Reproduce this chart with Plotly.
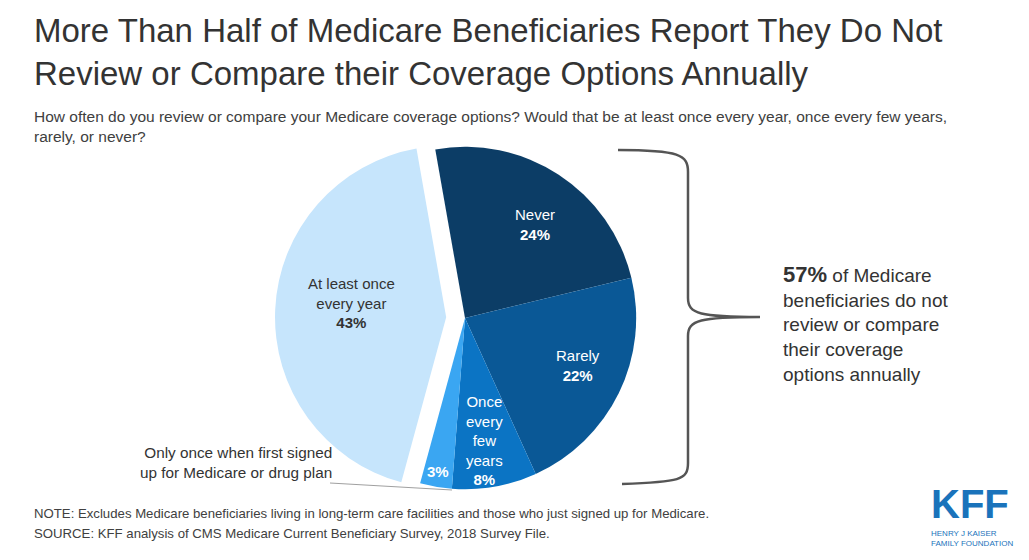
import plotly.graph_objects as go

W, H = 1029, 560

# ---- data ----
labels = ["Never", "Rarely", "Once every few years",
          "Only once when first signed up for Medicare or drug plan",
          "At least once every year"]
values = [24, 22, 8, 3, 43]
colors = ["#0c3d66", "#0a5896", "#0b74c4", "#3aa6f2", "#c6e5fc"]
pulls = [0, 0, 0, 0, 0.11]
label_text = ["Never", "Rarely", "Once<br>every<br>few<br>years", "", "At least once<br>every year"]
label_color = ["white", "white", "white", "white", "#333333"]
label_pos = [(535, 224), (578, 365), (484, 440), (438, 471), (351, 303)]

title_lines = ["More Than Half of Medicare Beneficiaries Report They Do Not",
               "Review or Compare their Coverage Options Annually"]
subtitle = ("How often do you review or compare your Medicare coverage options? Would that be at least once every year, once every few years,<br>"
            "rarely, or never?")
note = "NOTE: Excludes Medicare beneficiaries living in long-term care facilities and those who just signed up for Medicare."
source = "SOURCE: KFF analysis of CMS Medicare Current Beneficiary Survey, 2018 Survey File."
share_not_annual = values[0] + values[1] + values[2] + values[3]


def px(x):
    return x / W


def py(y):
    return 1 - y / H


FONT = "Liberation Sans, Arial, sans-serif"
cx, cy, box = 465, 318, 380

fig = go.Figure(go.Pie(
    labels=labels, values=values, sort=False, direction="clockwise",
    rotation=-10, pull=pulls, textinfo="none", hoverinfo="label+percent",
    marker=dict(colors=colors, line=dict(width=0)),
    domain=dict(x=[px(cx - box / 2), px(cx + box / 2)],
                y=[py(cy + box / 2), py(cy - box / 2)]),
    showlegend=False,
))

ann = []
for t, v, c, (x, y) in zip(label_text, values, label_color, label_pos):
    txt = (t + "<br>" if t else "") + f"<b>{v}%</b>"
    ann.append(dict(x=px(x), y=py(y), xref="paper", yref="paper", text=txt,
                    showarrow=False, align="center", xanchor="center", yanchor="middle",
                    font=dict(family=FONT, size=15, color=c)))

# outside label for small slice
ann.append(dict(x=px(334), y=py(462), xref="paper", yref="paper",
                text="Only once when first signed<br>up for Medicare or drug plan",
                showarrow=False, align="right", xanchor="right", yanchor="middle",
                font=dict(family=FONT, size=15.3, color="#333333")))

# title
ann.append(dict(x=px(32), y=py(10), xref="paper", yref="paper",
                text="<br>".join(title_lines), showarrow=False, align="left",
                xanchor="left", yanchor="top",
                font=dict(family=FONT, size=33, color="#333333")))
ann.append(dict(x=px(32), y=py(106), xref="paper", yref="paper", text=subtitle,
                showarrow=False, align="left", xanchor="left", yanchor="top",
                font=dict(family=FONT, size=15.5, color="#404040")))
ann.append(dict(x=px(32), y=py(513), xref="paper", yref="paper", text=note,
                showarrow=False, align="left", xanchor="left", yanchor="middle",
                font=dict(family=FONT, size=13.2, color="#404040")))
ann.append(dict(x=px(32), y=py(533), xref="paper", yref="paper", text=source,
                showarrow=False, align="left", xanchor="left", yanchor="middle",
                font=dict(family=FONT, size=13.2, color="#404040")))

# right callout
ann.append(dict(x=px(781), y=py(323), xref="paper", yref="paper",
                text=(f"<span style='font-size:22px'><b>{share_not_annual}%</b></span> of Medicare<br>"
                      "beneficiaries do not<br>review or compare<br>their coverage<br>options annually"),
                showarrow=False, align="left", xanchor="left", yanchor="middle",
                font=dict(family=FONT, size=19, color="#333333")))

# KFF logo
ann.append(dict(x=px(970), y=py(527), xref="paper", yref="paper", text="<b>KFF</b>",
                showarrow=False, xanchor="center", yanchor="bottom", borderpad=0,
                font=dict(family=FONT, size=40, color="#1a73bb")))
ann.append(dict(x=px(930), y=py(528), xref="paper", yref="paper",
                text="HENRY J KAISER<br>FAMILY FOUNDATION", showarrow=False,
                xanchor="left", yanchor="top", align="left", borderpad=0,
                font=dict(family=FONT, size=8, color="#1a73bb")))


def P(x, y):
    return f"{px(x):.5f},{py(y):.5f}"


brace = ("M " + P(618, 150) + " C " + P(680, 150) + " " + P(688, 155) + " " + P(688, 172)
         + " L " + P(688, 298) + " C " + P(688, 314) + " " + P(700, 317) + " " + P(760, 317)
         + " M " + P(760, 317) + " C " + P(700, 317) + " " + P(688, 320) + " " + P(688, 336)
         + " L " + P(688, 463) + " C " + P(688, 480) + " " + P(680, 482) + " " + P(622, 484))

shapes = [
    dict(type="path", xref="paper", yref="paper", path=brace,
         line=dict(color="#555555", width=2.5)),
    dict(type="line", xref="paper", yref="paper", x0=px(330), y0=py(483),
         x1=px(452), y1=py(490), line=dict(color="#a0a0a0", width=1)),
]

fig.update_layout(
    width=W, height=H, margin=dict(l=0, r=0, t=0, b=0),
    paper_bgcolor="white", plot_bgcolor="white",
    annotations=ann, shapes=shapes,
)

fig.write_html("out.html")
